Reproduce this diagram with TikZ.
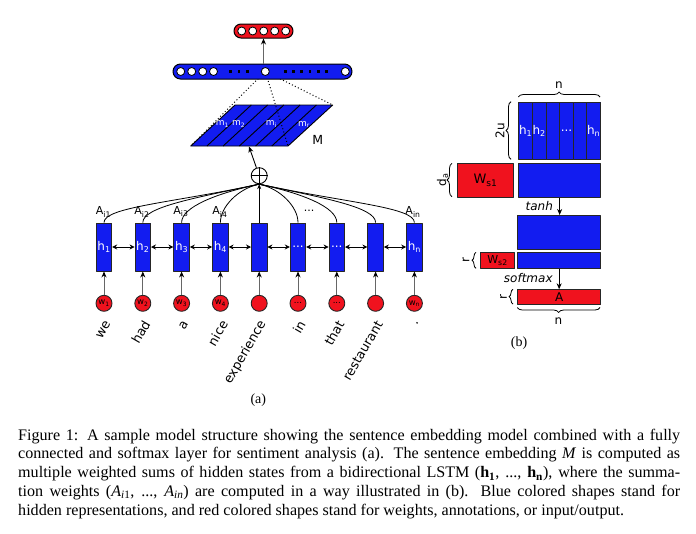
\documentclass[tikz,border=0pt]{standalone}
\usepackage{fontspec}
\setmainfont{Liberation Serif}
\newfontfamily\dv{DejaVu Sans}
\usetikzlibrary{arrows.meta,decorations.pathreplacing,calc}
\definecolor{bl}{RGB}{18,28,240}
\definecolor{rd}{RGB}{240,18,30}
\begin{document}
\begin{tikzpicture}[x=1pt,y=-1pt,line join=round,
  hb/.style={draw=black!85,fill=bl,line width=0.9pt,minimum width=15.5pt,minimum height=48pt,inner sep=0pt,text=white,font=\dv\fontsize{12}{12}\selectfont},
  wc/.style={circle,draw=black!85,fill=rd,line width=0.9pt,minimum size=16pt,inner sep=0pt,font=\dv\fontsize{8.5}{9}\selectfont},
  uc/.style={circle,draw=black,fill=white,line width=0.8pt,minimum size=8pt,inner sep=0pt},
  arr/.style={draw=black!60,line width=0.9pt,-{Stealth[length=6pt,width=5pt,black]}},
  arrb/.style={draw=black,line width=0.9pt,-{Stealth[length=6pt,width=5pt]}},
  biarr/.style={line width=0.9pt,{Stealth[length=5pt,width=5pt]}-{Stealth[length=5pt,width=5pt]}},
  word/.style={rotate=60,anchor=east,font=\dv\fontsize{12.8}{13}\selectfont,inner sep=0pt},
  alab/.style={font=\dv\fontsize{11}{11}\selectfont,inner sep=0pt},
  mlab/.style={font=\dv\fontsize{9}{9}\selectfont,inner sep=0pt,text=white},
  lab/.style={font=\dv\fontsize{12}{12}\selectfont,inner sep=0pt},
  rectb/.style={draw=black!85,line width=1pt,fill=bl,inner sep=0pt,anchor=north west,text=white,font=\dv\fontsize{12}{12}\selectfont},
  rectr/.style={draw=black!85,line width=1pt,fill=rd,inner sep=0pt,anchor=north west,font=\dv\fontsize{13}{13}\selectfont},
  brc/.style={decorate,decoration={brace,amplitude=5pt},line width=0.8pt},
  capline/.style={anchor=base west,inner sep=0pt,font=\fontsize{16.1}{18.8}\selectfont}
]
\path[use as bounding box] (0,0) rectangle (696,533);
\fill[white] (0,0) rectangle (696,533);

% ---------- (a) ----------
% parallelogram M
\filldraw[fill=bl,draw=black,line width=0.9pt] (235,105) -- (332.7,105) -- (288,146) -- (190.7,146) -- cycle;
\foreach \kk in {1,...,5} \draw[line width=0.9pt] ({235+16.28*\kk},105) -- ({190.7+16.22*\kk},146);
\node[mlab] (m1) at (222.5,124) {m\textsubscript{1}};
\node[mlab] (m2) at (238.7,124) {m\textsubscript{2}};
\node[mlab] (mi) at (271.3,124) {m\textsubscript{i}};
\node[mlab] (mr) at (304,124) {m\textsubscript{r}};
\node[font=\dv\fontsize{12.5}{13}\selectfont,inner sep=0pt] (Mlab) at (317.7,140) {M};
\coordinate (pBL) at (190.7,146);
\coordinate (pBR) at (288,146);
\coordinate (pTR) at (332.7,105);
\coordinate (pb) at (249,146.5);

% dotted projection lines
\coordinate (mc) at (265.3,71.5);
\foreach \cc in {pBL,pBR,pTR} \draw[line width=1pt,dash pattern=on 1pt off 2.3pt] (mc) -- (\cc);

% hidden layer
\node[draw=black,fill=bl,line width=1pt,rounded corners=7.5pt,minimum width=179pt,minimum height=15pt,inner sep=0pt] (L) at (262.5,71.5) {};
\foreach \xx [count=\nn] in {180.7,191.7,202.7,213.5,265.3,345.3} \node[uc] (lc\nn) at (\xx,71.5) {};
\foreach \xx in {230.7,239,247.3,285.3,293.5,301.7,310,318.3,326.5} \fill (\xx-1.3,70.2) rectangle (\xx+1.3,72.8);

% output layer
\node[draw=black,fill=rd,line width=1pt,rounded corners=7pt,minimum width=59pt,minimum height=14pt,inner sep=0pt] (R) at (263.5,31) {};
\foreach \xx [count=\nn] in {241.7,252.7,263.7,274.7,285.7} \node[uc] (rc\nn) at (\xx,31) {};
\draw[arr] (R.south |- L.north) -- (R.south);

% oplus
\node[circle,draw=black,fill=white,line width=0.9pt,minimum size=16pt,inner sep=0pt] (op) at (259.2,175.7) {};
\draw[line width=0.8pt] (op.north) -- (op.south) (op.west) -- (op.east);
\draw[arr,draw=black] (op) -- (pb);

% LSTM boxes, inputs, words
\foreach \ii/\xx/\hl/\wl/\wrd in {1/104/{h\textsubscript{1}}/{w\textsubscript{1}}/we,
  2/142.8/{h\textsubscript{2}}/{w\textsubscript{2}}/had,
  3/181.6/{h\textsubscript{3}}/{w\textsubscript{3}}/a,
  4/220.4/{h\textsubscript{4}}/{w\textsubscript{4}}/nice,
  5/259.2/{}/{}/experience,
  6/298/{...}/{...}/in,
  7/336.8/{...}/{...}/that,
  8/375.6/{}/{}/restaurant,
  9/414.4/{h\textsubscript{n}}/{w\textsubscript{n}}/.}{
  \node[hb] (h\ii) at (\xx,247) {\hl};
  \node[wc] (w\ii) at (\xx,303.3) {\wl};
  \draw[arr] (w\ii) -- (h\ii);
  \node[word] (t\ii) at (\xx+4,321.5) {\wrd};
}
\foreach \ii [evaluate=\ii as \jj using int(\ii+1)] in {1,...,8} \draw[biarr] (h\ii.east) -- (h\jj.west);

% attention connections
\foreach \ii/\xx in {1/104,2/142.8,3/181.6,4/220.4,6/298,7/336.8,8/375.6,9/414.4}{
  \pgfmathsetmacro\cxx{259.2-0.55*(259.2-\xx)}
  \pgfmathsetmacro\cyy{184+0.12*abs(259.2-\xx)}
  \draw[line width=0.8pt] (h\ii.north) .. controls (\xx,207) and (\cxx,\cyy) .. (op.south);
}
\draw[line width=0.8pt,-{Stealth[length=5pt,width=4pt]}] (h5.north) -- (op.south);

\node[alab] (a1) at (103.5,212) {A\textsubscript{i1}};
\node[alab] (a2) at (142,212) {A\textsubscript{i2}};
\node[alab] (a3) at (181,212) {A\textsubscript{i3}};
\node[alab] (a4) at (220,212) {A\textsubscript{i4}};
\node[alab] (a6) at (309,211) {...};
\node[alab] (a9) at (413,212) {A\textsubscript{in}};

\node[font=\fontsize{14}{14}\selectfont,inner sep=0pt] (capa) at (258.3,400) {(a)};

% ---------- (b) ----------
\foreach \kk in {1,...,6} \node[rectb,minimum width=13.62pt,minimum height=57.6pt] (col\kk) at ({518.3+13.62*(\kk-1)},101.7) {};
\node[text=white,lab] at (col1) {h\textsubscript{1}};
\node[text=white,lab] at (col2) {h\textsubscript{2}};
\node[text=white,lab] at (col4) {...};
\node[text=white,lab] at (col6) {h\textsubscript{n}};

\node[rectr,minimum width=56.6pt,minimum height=33.4pt] (ws1) at (456.7,163.3) {W\textsubscript{s1}};
\node[rectb,minimum width=81.7pt,minimum height=33.4pt] (b2) at (518.3,163.3) {};
\node[rectb,minimum width=82.7pt,minimum height=34.3pt] (b3) at (517.3,215) {};
\node[rectr,minimum width=34pt,minimum height=16pt,font=\dv\fontsize{11}{11}\selectfont] (ws2) at (480,252.3) {W\textsubscript{s2}};
\node[rectb,minimum width=82.7pt,minimum height=16pt] (b4) at (517.3,252.3) {};
\node[rectr,minimum width=82.7pt,minimum height=14.7pt,font=\dv\fontsize{12}{12}\selectfont] (Ab) at (517.3,289.3) {A};

\draw[arrb] (b2.south) -- (b2.south |- b3.north);
\draw[arrb] (b4.south) -- (b4.south |- Ab.north);
\node[lab,font=\dv\itshape\fontsize{12}{12}\selectfont] (tanh) at (539.3,206) {tanh};
\node[lab,font=\dv\itshape\fontsize{12}{12}\selectfont] (smax) at (528.3,278.3) {softmax};

\draw[brc] (518.3,97) -- (600,97);
\node[lab] (ntop) at (559,85) {n};
\draw[brc] (511,159.3) -- (511,101.7);
\node[lab,rotate=90] (u2) at (500,130.5) {2u};
\draw[brc] (452,196.7) -- (452,163.3);
\node[lab,rotate=90] (da) at (442.5,180) {d\textsubscript{a}};
\draw[brc,decoration={brace,amplitude=4pt}] (476,268.3) -- (476,252.3);
\node[lab,rotate=90] (r1) at (466,260.3) {r};
\draw[brc,decoration={brace,amplitude=4pt}] (513,304) -- (513,289.3);
\node[lab,rotate=90] (r2) at (503.5,296.7) {r};
\draw[brc] (600,307.5) -- (517.3,307.5);
\node[lab] (nbot) at (558.3,321) {n};

\node[font=\fontsize{14}{14}\selectfont,inner sep=0pt] (capb) at (519,342.7) {(b)};

% ---------- caption ----------
\node[capline] (c1) at (18,440) {\makebox[662pt][s]{Figure 1: A sample model structure showing the sentence embedding model combined with a fully}};
\node[capline] (c2) at (18,458.8) {\makebox[662pt][s]{connected and softmax layer for sentiment analysis (a). The sentence embedding \textit{M} is computed as}};
\node[capline] (c3) at (18,477.6) {\makebox[662pt][s]{multiple weighted sums of hidden states from a bidirectional LSTM ($\mathbf{h_1}$, ..., $\mathbf{h_n}$), where the summa-}};
\node[capline] (c4) at (18,496.4) {\makebox[662pt][s]{tion weights (\textit{A}\textsubscript{\textit{i}1}, ..., \textit{A}\textsubscript{\textit{in}}) are computed in a way illustrated in (b). Blue colored shapes stand for}};
\node[capline] (c5) at (18,515.2) {hidden representations, and red colored shapes stand for weights, annotations, or input/output.};
\end{tikzpicture}
\end{document}
